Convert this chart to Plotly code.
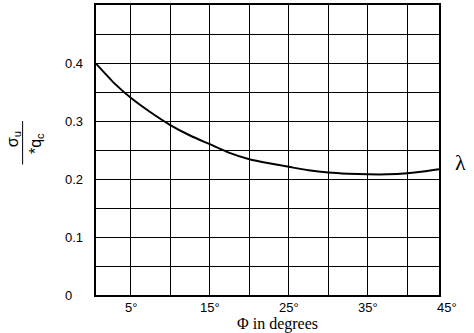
import plotly.graph_objects as go

# Data
phi_deg = [0.6, 3, 5, 7.5, 10, 12.5, 15, 17.5, 20, 22.5, 25, 27.5, 30, 32.5, 35, 37.5, 40, 42, 44]
sigma_ratio = [0.399, 0.364, 0.340, 0.315, 0.293, 0.275, 0.260, 0.245, 0.234, 0.227, 0.221, 0.215, 0.211, 0.209, 0.208, 0.208, 0.210, 0.213, 0.217]

x_tick_vals = [5, 15, 25, 35, 45]
x_tick_text = ["5°", "15°", "25°", "35°", "45°"]
y_tick_vals = [0, 0.1, 0.2, 0.3, 0.4]
y_tick_text = ["0", "0.1", "0.2", "0.3", "0.4"]

x_range = [0.6, 44]
y_range = [0, 0.5]

fig = go.Figure()
fig.add_trace(go.Scatter(x=phi_deg, y=sigma_ratio, mode="lines",
                         line=dict(color="black", width=2, shape="spline", smoothing=0.6),
                         showlegend=False, hoverinfo="skip"))

grid = dict(showgrid=True, gridcolor="black", gridwidth=1.3, zeroline=False,
            showline=True, linecolor="black", linewidth=1.5, mirror=True,
            showticklabels=False, ticks="")
fig.update_xaxes(range=x_range, tick0=0, dtick=5, **grid)
fig.update_yaxes(range=y_range, tick0=0, dtick=0.05, **grid)

ann = []
for v, t in zip(x_tick_vals, x_tick_text):
    xp = (v - x_range[0]) / (x_range[1] - x_range[0])
    ann.append(dict(x=xp, y=0, xref="paper", yref="paper", yshift=-3, text=t,
                    showarrow=False, xanchor="center", yanchor="top",
                    font=dict(family="Liberation Sans", size=13, color="black")))
for v, t in zip(y_tick_vals, y_tick_text):
    ann.append(dict(x=-0.095, y=v, xref="paper", yref="y", text=t,
                    showarrow=False, xanchor="left", yanchor="middle",
                    font=dict(family="Liberation Sans", size=13, color="black")))
ann.append(dict(x=0.53, y=0, xref="paper", yref="paper", yshift=-18, text="Φ in degrees",
                showarrow=False, xanchor="center", yanchor="top",
                font=dict(family="Liberation Serif", size=16, color="black")))
ann.append(dict(x=1.0, y=0.228, xref="paper", yref="y", xshift=14, text="λ",
                showarrow=False, xanchor="left", yanchor="middle",
                font=dict(family="Liberation Serif", size=22, color="black")))
# y-axis label as a fraction: sigma_u / *q_c (rotated)
ann.append(dict(x=-0.24, y=0.268, xref="paper", yref="y", text="σ<sub>u</sub>",
                showarrow=False, textangle=-90, xanchor="center", yanchor="middle",
                font=dict(family="Liberation Sans", size=16, color="black")))
ann.append(dict(x=-0.175, y=0.262, xref="paper", yref="y", text="*q<sub>c</sub>",
                showarrow=False, textangle=-90, xanchor="center", yanchor="middle",
                font=dict(family="Liberation Sans", size=16, color="black")))

fig.update_layout(
    width=474, height=333,
    margin=dict(l=96, r=35, t=3, b=38),
    paper_bgcolor="white", plot_bgcolor="white",
    annotations=ann,
    shapes=[dict(type="line", xref="paper", yref="y", x0=-0.214, x1=-0.214,
                 y0=0.225, y1=0.3, line=dict(color="black", width=1))],
)

fig.write_html("out.html")
